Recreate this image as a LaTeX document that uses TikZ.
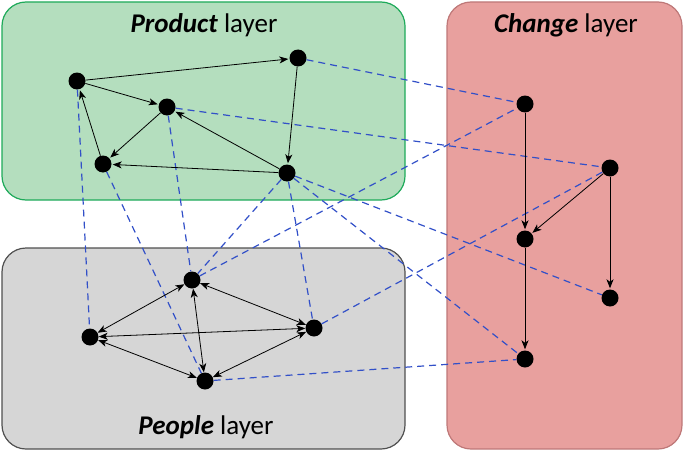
\documentclass[tikz,border=0pt]{standalone}
\usepackage{fontspec}
\setmainfont{Carlito}
\usetikzlibrary{arrows.meta}
\begin{document}
\begin{tikzpicture}[x=1pt,y=-1pt,
  dot/.style={circle,fill=black,inner sep=0pt,minimum size=17pt},
  arr/.style={-{Stealth[length=9pt,width=7pt,inset=2.5pt]},shorten >=1pt,line width=0.8pt},
  barr/.style={{Stealth[length=9pt,width=7pt,inset=2.5pt]}-{Stealth[length=9pt,width=7pt,inset=2.5pt]},line width=0.8pt},
  dsh/.style={dash pattern=on 7pt off 5pt,draw={rgb,255:red,50;green,80;blue,200},line width=1.2pt},
  lay/.style={rounded corners=24pt,line width=1.2pt},
  ttl/.style={font=\fontsize{27}{30}\selectfont}]
\useasboundingbox (0,0) rectangle (685,452);
\definecolor{gfill}{RGB}{180,222,190}\definecolor{gdraw}{RGB}{30,170,90}
\definecolor{pfill}{RGB}{214,214,214}\definecolor{pdraw}{RGB}{80,80,80}
\definecolor{cfill}{RGB}{232,160,158}\definecolor{cdraw}{RGB}{190,120,120}
\draw[lay,fill=gfill,draw=gdraw] (2,2) rectangle (405,200);
\draw[lay,fill=pfill,draw=pdraw] (2,248) rectangle (405,449);
\draw[lay,fill=cfill,draw=cdraw] (447,2) rectangle (682,449);
\node[ttl] (tp) at (204,25) {\textbf{\textit{Product}} layer};
\node[ttl] (tc) at (566,25) {\textbf{\textit{Change}} layer};
\node[ttl] (tq) at (206,427) {\textbf{\textit{People}} layer};
\node[dot] (A) at (77,81) {};
\node[dot] (B) at (298,58) {};
\node[dot] (C) at (167,107) {};
\node[dot] (D) at (103,164) {};
\node[dot] (E) at (287,173) {};
\node[dot] (P1) at (192,280) {};
\node[dot] (P2) at (90,337) {};
\node[dot] (P3) at (314,328) {};
\node[dot] (P4) at (205,381) {};
\node[dot] (C1) at (525,104) {};
\node[dot] (C2) at (610,168) {};
\node[dot] (C3) at (525,239) {};
\node[dot] (C4) at (610,298) {};
\node[dot] (C5) at (525,359) {};
\draw[dsh] (B)--(C1); \draw[dsh] (C)--(C2); \draw[dsh] (E)--(C4); \draw[dsh] (E)--(C5);
\draw[dsh] (E)--(P3); \draw[dsh] (E)--(P1); \draw[dsh] (A)--(P2); \draw[dsh] (D)--(P4);
\draw[dsh] (C)--(P1); \draw[dsh] (P1)--(C1); \draw[dsh] (P3)--(C2); \draw[dsh] (P4)--(C5);
\draw[arr] (A)--(B); \draw[arr] (A)--(C); \draw[arr] (C)--(D); \draw[arr] (D)--(A);
\draw[arr] (B)--(E); \draw[arr] (E)--(C); \draw[arr] (E)--(D);
\draw[barr] (P1)--(P2); \draw[barr] (P1)--(P3); \draw[barr] (P1)--(P4);
\draw[barr] (P2)--(P3); \draw[barr] (P2)--(P4); \draw[barr] (P3)--(P4);
\draw[arr] (C1)--(C3); \draw[arr] (C3)--(C5); \draw[arr] (C2)--(C3); \draw[arr] (C2)--(C4);
\end{tikzpicture}
\end{document}
